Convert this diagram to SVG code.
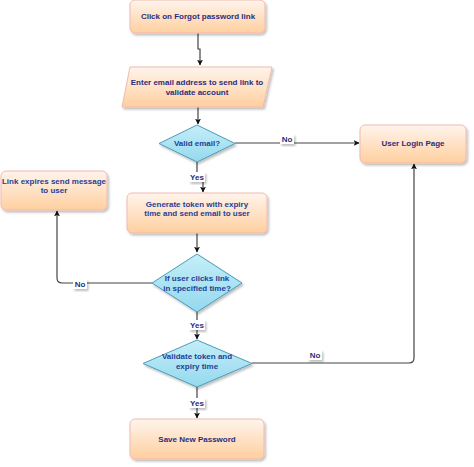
<svg xmlns="http://www.w3.org/2000/svg" width="474" height="467" viewBox="0 0 474 467">
<defs>
<linearGradient id="gBox" x1="0" y1="0" x2="0" y2="1">
<stop offset="0" stop-color="#fff4ec"/>
<stop offset="1" stop-color="#ffcf9f"/>
</linearGradient>
<linearGradient id="gDia" x1="0" y1="0" x2="0" y2="1">
<stop offset="0" stop-color="#c4eef8"/>
<stop offset="1" stop-color="#94d9ee"/>
</linearGradient>
<filter id="sh" x="-10%" y="-10%" width="130%" height="140%">
<feDropShadow dx="1.5" dy="2" stdDeviation="1.2" flood-color="#000" flood-opacity="0.25"/>
</filter>
<marker id="arr" viewBox="0 0 10 10" refX="9" refY="5" markerWidth="6" markerHeight="6" orient="auto" markerUnits="userSpaceOnUse">
<path d="M0,0 L10,5 L0,10 L2.5,5 Z" fill="#111"/>
</marker>
</defs>
<style>
.box{fill:url(#gBox);stroke:#f2b9ad;stroke-width:1;filter:url(#sh)}
.dia{fill:url(#gDia);stroke:#4c9bb6;stroke-width:1;filter:url(#sh)}
.t{font-family:"Liberation Sans",Arial,sans-serif;font-size:8px;font-weight:bold;fill:#2b2d7c;text-anchor:middle}
.td{font-family:"Liberation Sans",Arial,sans-serif;font-size:8px;font-weight:bold;fill:#1f3f95;text-anchor:middle}
.e{fill:none;stroke:#444;stroke-width:1.2;marker-end:url(#arr)}
.lb{fill:#fff;filter:url(#sh)}
.l{font-family:"Liberation Sans",Arial,sans-serif;font-size:8px;font-weight:bold;fill:#2b2d7c;text-anchor:middle}
</style>
<rect width="474" height="467" fill="#fff"/>
<g id="edges">
<path class="e" d="M198,33 V49 H200 V65"/>
<path class="e" d="M198,107 V124"/>
<path class="e" d="M235,143 H359"/>
<path class="e" d="M197,162 V178 H203 V192"/>
<path class="e" d="M197,233 V252"/>
<path class="e" d="M152,283 H62 Q57,283 57,278 V211"/>
<path class="e" d="M197,312 V339"/>
<path class="e" d="M252,363 H409 Q414,363 414,358 V164"/>
<path class="e" d="M197,387 V418"/>
</g>
<g id="labels">
<rect class="lb" x="280" y="134" width="14" height="10"/><text class="l" x="287" y="142">No</text>
<rect class="lb" x="189" y="172" width="16" height="10"/><text class="l" x="197" y="180">Yes</text>
<rect class="lb" x="73" y="279" width="14" height="10"/><text class="l" x="80" y="287">No</text>
<rect class="lb" x="189" y="320" width="16" height="10"/><text class="l" x="197" y="328">Yes</text>
<rect class="lb" x="308" y="350" width="14" height="10"/><text class="l" x="315" y="358">No</text>
<rect class="lb" x="189" y="398" width="16" height="10"/><text class="l" x="197" y="406">Yes</text>
</g>
<g id="n1">
<rect class="box" x="130" y="0" width="135" height="33" rx="5"/>
<text class="t" x="198" y="19">Click on Forgot password link</text>
</g>
<g id="n2">
<polygon class="box" points="130,67 272,67 263,107 122,107"/>
<text class="t" x="197" y="85">Enter email address to send link to</text>
<text class="t" x="197" y="95">validate account</text>
</g>
<g id="n3">
<polygon class="dia" points="197,125 235,143.5 197,162 159,143.5"/>
<text class="td" x="197" y="146">Valid email?</text>
</g>
<g id="n4">
<rect class="box" x="360" y="125" width="106" height="38" rx="5"/>
<text class="t" x="413" y="146">User Login Page</text>
</g>
<g id="n5">
<rect class="box" x="127" y="193" width="140" height="40" rx="5"/>
<text class="td" x="197" y="207">Generate token with expiry</text>
<text class="td" x="197" y="216">time and send email to user</text>
</g>
<g id="n6">
<rect class="box" x="1" y="171" width="106" height="39" rx="5"/>
<text class="td" x="54" y="184">Link expires send message</text>
<text class="td" x="54" y="193">to user</text>
</g>
<g id="n7">
<polygon class="dia" points="197,254 242,283 197,312 152,283"/>
<text class="td" x="197" y="281">If user clicks link</text>
<text class="td" x="197" y="291">in specified time?</text>
</g>
<g id="n8">
<polygon class="dia" points="197,340 252,363.5 197,387 143,363.5"/>
<text class="td" x="197" y="359">Validate token and</text>
<text class="td" x="197" y="369">expiry time</text>
</g>
<g id="n9">
<rect class="box" x="130" y="419" width="134" height="40" rx="5"/>
<text class="t" x="197" y="442">Save New Password</text>
</g>
</svg>
